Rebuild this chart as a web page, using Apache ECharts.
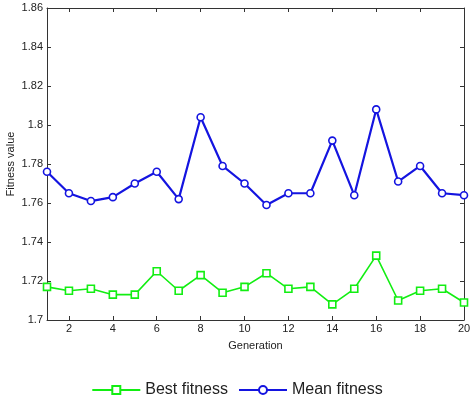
<!DOCTYPE html>
<html>
<head>
<meta charset="utf-8">
<script src="https://cdn.jsdelivr.net/npm/echarts@6/dist/echarts.min.js"></script>
<style>
  html, body { margin: 0; padding: 0; background: #fff; }
  #chart { width: 474px; height: 397px; }
</style>
</head>
<body>
<div id="chart"></div>
<script>
const generations = [1, 2, 3, 4, 5, 6, 7, 8, 9, 10, 11, 12, 13, 14, 15, 16, 17, 18, 19, 20]
const bestFitness = [1.717, 1.715, 1.716, 1.713, 1.713, 1.725, 1.715, 1.723, 1.714, 1.717,
  1.724, 1.716, 1.717, 1.708, 1.716, 1.733, 1.710, 1.715, 1.716, 1.709]
const meanFitness = [1.776, 1.765, 1.761, 1.763, 1.770, 1.776, 1.762, 1.804, 1.779, 1.770,
  1.759, 1.765, 1.765, 1.792, 1.764, 1.808, 1.771, 1.779, 1.765, 1.764]
const xTicks = [2, 4, 6, 8, 10, 12, 14, 16, 18, 20]

const font = 'Liberation Sans, Arial, sans-serif'
const axisColor = '#333'
const green = '#12ee12'
const blue = '#1414e0'

function pairs(values) {
  return generations.map((g, i) => [g, values[i]])
}

const xBase = {
  type: 'value',
  min: 1,
  max: 20,
  splitLine: { show: false },
  axisLine: { lineStyle: { color: axisColor, width: 1 } },
  axisTick: { inside: true, length: 4, customValues: xTicks, lineStyle: { color: axisColor } }
}
const yBase = {
  type: 'value',
  min: 1.7,
  max: 1.86,
  interval: 0.02,
  splitLine: { show: false },
  axisLine: { show: true, lineStyle: { color: axisColor, width: 1 } },
  axisTick: { show: true, inside: true, length: 4, lineStyle: { color: axisColor } }
}

const chart = echarts.init(document.getElementById('chart'))
chart.setOption({
  animation: false,
  textStyle: { fontFamily: font },
  grid: { left: 47, top: 8, right: 10, bottom: 77, outerBoundsMode: 'none', containLabel: false },
  legend: {
    top: 377,
    left: 'center',
    itemWidth: 48,
    itemHeight: 10,
    itemGap: 10,
    textStyle: { fontSize: 16, color: '#222', fontFamily: font },
    data: ['Best fitness', 'Mean fitness']
  },
  xAxis: [
    Object.assign({}, xBase, {
      position: 'bottom',
      name: 'Generation',
      nameLocation: 'middle',
      nameGap: 20,
      nameMoveOverlap: false,
      nameTextStyle: { fontSize: 11, color: '#222' },
      axisLabel: { customValues: xTicks, fontSize: 11, color: '#222', margin: 3 }
    }),
    Object.assign({}, xBase, {
      position: 'top',
      axisLabel: { show: false }
    })
  ],
  yAxis: [
    Object.assign({}, yBase, {
      position: 'left',
      name: 'Fitness value',
      nameLocation: 'middle',
      nameGap: 31,
      nameMoveOverlap: false,
      nameTextStyle: { fontSize: 11, color: '#222' },
      axisLabel: {
        fontSize: 11,
        color: '#222',
        margin: 4,
        formatter: (v) => String(parseFloat(v.toFixed(2)))
      }
    }),
    Object.assign({}, yBase, {
      position: 'right',
      axisLabel: { show: false }
    })
  ],
  series: [
    {
      name: 'Best fitness',
      type: 'line',
      data: pairs(bestFitness),
      symbol: 'rect',
      symbolSize: 7,
      color: green,
      lineStyle: { width: 1.6, color: green },
      itemStyle: { color: '#ffffff', borderColor: green, borderWidth: 1.6 }
    },
    {
      name: 'Mean fitness',
      type: 'line',
      data: pairs(meanFitness),
      symbol: 'circle',
      symbolSize: 7,
      color: blue,
      lineStyle: { width: 2.2, color: blue },
      itemStyle: { color: '#ffffff', borderColor: blue, borderWidth: 1.6 }
    }
  ]
})
</script>
</body>
</html>
